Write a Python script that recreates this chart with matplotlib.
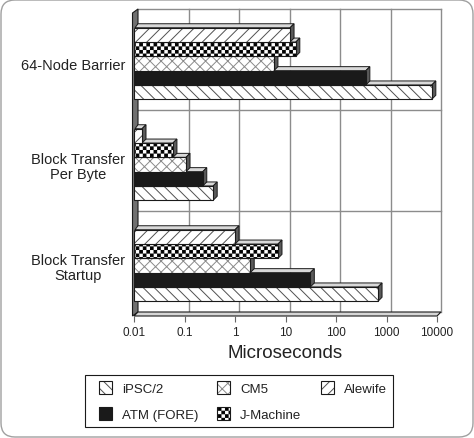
import warnings
import numpy as np
import matplotlib
matplotlib.use('Agg')
import matplotlib.pyplot as plt
from matplotlib import hatch as mhatch
from matplotlib.path import Path
from matplotlib.patches import Polygon, Rectangle, Patch, FancyBboxPatch
from matplotlib.transforms import IdentityTransform, ScaledTranslation
from matplotlib.legend_handler import HandlerBase
from matplotlib.ticker import NullLocator

warnings.filterwarnings('ignore')

# ---------------- data ----------------
categories = ['Block Transfer\nStartup', 'Block Transfer\nPer Byte', '64-Node Barrier']
series = ['iPSC/2', 'ATM (FORE)', 'CM5', 'J-Machine', 'Alewife']
ipsc2 = [680, 0.37, 7900]
atm_fore = [31, 0.23, 390]
cm5 = [2.0, 0.107, 5.9]
jmachine = [7.1, 0.059, 16]
alewife = [1.0, 0.0144, 12.3]
xticks = [0.01, 0.1, 1, 10, 100, 1000, 10000]
xticklabels = ['0.01', '0.1', '1', '10', '100', '1000', '10000']
xlabel = 'Microseconds'

values = [ipsc2, atm_fore, cm5, jmachine, alewife]
# facecolor, hatch, hatch colour
styles = [('white', '\\\\\\', '#505050'),
          ('#1a1a1a', None, '#1a1a1a'),
          ('white', 'xxx', '#8a8a8a'),
          ('white', 'c', '#000000'),
          ('white', '///', '#505050')]


# custom checkerboard hatch ('c')
class CheckerHatch(mhatch.HatchPatternBase):
    def __init__(self, hatch, density):
        self.n = 28 if (hatch and 'c' in hatch) else 0
        self.num_vertices = (self.n * self.n // 2) * 5

    def set_vertices_and_codes(self, vertices, codes):
        n = self.n
        s = 1.0 / n
        e = 0.0045
        k = 0
        for i in range(n):
            for j in range(n):
                if (i + j) % 2 == 0:
                    x, y = i * s + e, j * s + e
                    w = s - 2 * e
                    vertices[k:k + 5] = [(x, y), (x + w, y), (x + w, y + w), (x, y + w), (x, y)]
                    codes[k] = Path.MOVETO
                    codes[k + 1:k + 4] = Path.LINETO
                    codes[k + 4] = Path.CLOSEPOLY
                    k += 5


mhatch._hatch_types.append(CheckerHatch)

plt.rcParams['font.family'] = ['Liberation Sans', 'DejaVu Sans']
plt.rcParams['hatch.linewidth'] = 0.7

W, H = 474, 439
fig = plt.figure(figsize=(W / 100, H / 100), dpi=100)
ax = fig.add_axes([134 / W, 1 - 317 / H, 303 / W, 303 / H])
ax.set_xscale('log')
ax.set_xlim(xticks[0], xticks[-1])
ax.set_ylim(-0.5, len(categories) - 0.5)
for sp in ax.spines.values():
    sp.set_visible(False)
ax.set_facecolor('none')

d = 4  # 3D depth in pixels
back = ax.transData + ScaledTranslation(d / 100, d / 100, fig.dpi_scale_trans)
gridc = '#8c8c8c'

# back plane grid
for xt in xticks[1:]:
    ax.plot([xt, xt], [-0.5, len(categories) - 0.5], color=gridc, lw=1.0,
            transform=back, clip_on=False, zorder=0.5)
for yl in np.arange(0.5, len(categories), 1.0):
    ax.plot([xticks[0], xticks[-1]], [yl, yl], color=gridc, lw=1.0,
            transform=back, clip_on=False, zorder=0.5)

# wall and floor
td = ax.transData
X0, Yb = td.transform((xticks[0], -0.5))
X1, Yt = td.transform((xticks[-1], len(categories) - 0.5))
wall = Polygon([(X0 - 1.5, Yb), (X0 - 1.5, Yt), (X0 + d, Yt + d), (X0 + d, Yb + d)],
               closed=True, facecolor='#707070', edgecolor='#1a1a1a', lw=0.8,
               transform=IdentityTransform(), zorder=1, clip_on=False)
floor = Polygon([(X0, Yb), (X1, Yb), (X1 + d, Yb + d), (X0 + d, Yb + d)], closed=True,
                facecolor='#d6d6d6', edgecolor='#1a1a1a', lw=0.8,
                transform=IdentityTransform(), zorder=1.2, clip_on=False)
ax.add_artist(wall)
ax.add_artist(floor)

bh = 0.1416
for g in range(len(categories)):
    for i, (vals, (fc, hat, hc)) in enumerate(zip(values, styles)):
        v = vals[g]
        yc = g + (i - 2) * bh
        z = 3 + g * 20 + i * 3
        # 3D extrusion
        xa, ya = td.transform((xticks[0], yc - bh / 2))
        xb, yb = td.transform((v, yc + bh / 2))
        top = Polygon([(xa + 1, yb), (xb, yb), (xb + d, yb + d), (xa + d, yb + d)], closed=True,
                      facecolor='#d9d9d9', edgecolor='#1a1a1a', lw=0.7,
                      transform=IdentityTransform(), zorder=z, clip_on=False)
        side = Polygon([(xb, ya), (xb + d, ya + d), (xb + d, yb + d), (xb, yb)], closed=True,
                       facecolor='#5a5a5a', edgecolor='#1a1a1a', lw=0.7,
                       transform=IdentityTransform(), zorder=z, clip_on=False)
        ax.add_artist(top)
        ax.add_artist(side)
        ax.barh(yc, v - xticks[0], left=xticks[0], height=bh, color=fc, hatch=hat,
                edgecolor=hc, linewidth=0, zorder=z + 1)
        ax.barh(yc, v - xticks[0], left=xticks[0], height=bh, fill=False,
                edgecolor='#1a1a1a', linewidth=0.8, zorder=z + 1.5)

# ticks & labels
ax.set_xticks(xticks, xticklabels)
ax.xaxis.set_minor_locator(NullLocator())
ax.tick_params(axis='x', direction='out', length=4, width=0.8, color='#666666',
               labelsize=8.5, labelcolor='#222222', pad=3.2)
ax.set_yticks(range(len(categories)), categories)
ax.tick_params(axis='y', length=0, pad=6.5, labelsize=10.5, labelcolor='#222222')
for t in ax.get_yticklabels():
    t.set_multialignment('center')
    t.set_linespacing(1.1)
ax.set_xlabel(xlabel, fontsize=13.5, color='#222222', labelpad=4.5)


# legend
class SquareHandler(HandlerBase):
    def create_artists(self, legend, orig_handle, xdescent, ydescent, width, height,
                       fontsize, trans):
        s = height
        x0 = -xdescent + width - s
        y0 = -ydescent
        r1 = Rectangle((x0, y0), s, s, facecolor=orig_handle.get_facecolor(),
                       hatch=orig_handle.get_hatch(), edgecolor=orig_handle.get_edgecolor(),
                       linewidth=0, transform=trans)
        r2 = Rectangle((x0, y0), s, s, fill=False, edgecolor='#1a1a1a', linewidth=0.8,
                       transform=trans)
        return [r1, r2]


handles = [Patch(facecolor=fc, hatch=hat, edgecolor=hc) for fc, hat, hc in styles]
hmap = {h: SquareHandler() for h in handles}
leg = fig.legend(handles, series, ncol=3, fontsize=9.5, handlelength=1.55, handleheight=1.15,
                 handletextpad=0.75, columnspacing=0.9, labelspacing=0.85, borderpad=0.5,
                 fancybox=False, edgecolor='#1a1a1a', framealpha=1, loc='center',
                 bbox_to_anchor=(239 / W, 1 - 402 / H), bbox_transform=fig.transFigure,
                 handler_map=hmap)
leg.get_frame().set_linewidth(0.8)
for t in leg.get_texts():
    t.set_color('#222222')

# rounded figure border
border = FancyBboxPatch((1, 1), W - 2, H - 2, boxstyle='round,pad=0,rounding_size=14',
                        transform=IdentityTransform(), edgecolor='#a0a0a0',
                        facecolor='none', lw=1.0)
fig.patches.append(border)

fig.savefig('out.png', dpi=100)
